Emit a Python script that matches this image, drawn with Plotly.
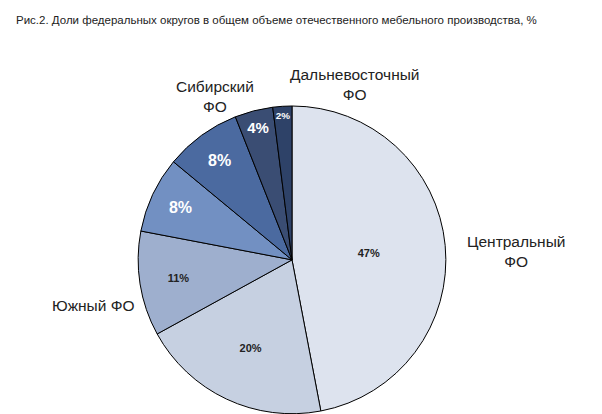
import plotly.graph_objects as go

districts = ["Центральный ФО", "Северо-Западный ФО", "Южный ФО", "Приволжский ФО",
             "Уральский ФО", "Сибирский ФО", "Дальневосточный ФО"]
shares = [47, 20, 11, 8, 8, 4, 2]
colors = ["#dde3ee", "#c6d0e1", "#9eafce", "#7290c2", "#4b6aa0", "#3a4d73", "#2e4268"]
txt_colors = ["#222", "#222", "#222", "white", "white", "white", "white"]
txt_sizes = [11, 11, 11, 16, 16, 15, 15]

fig = go.Figure(go.Pie(
    labels=districts, values=shares, sort=False, direction="clockwise", rotation=0,
    marker=dict(colors=colors, line=dict(color="black", width=1)),
    texttemplate="<b>%{value}%</b>", textposition="inside", insidetextorientation="horizontal",
    textfont=dict(color=txt_colors, size=txt_sizes, family="Liberation Sans"),
    domain=dict(x=[129/602, 439/602], y=[0.02, 1-98/414]),
    showlegend=False, hoverinfo="label+percent"))

ann = [
    ("Рис.2. Доли федеральных округов в общем объеме отечественного мебельного производства, %", 6, 12, 11.5, "left"),
    ("Центральный<br>ФО", 508, 244, 15.5, "center"),
    ("Южный ФО", 85, 297, 15.5, "center"),
    ("Сибирский<br>ФО", 207, 88, 15.5, "center"),
    ("Дальневосточный<br>ФО", 347, 76, 15.5, "center"),
]
for t, x, y, s, a in ann:
    fig.add_annotation(text=t, x=x/602, y=1-y/414, xref="paper", yref="paper",
                       showarrow=False, xanchor="left" if a == "left" else "center",
                       yanchor="middle", align=a,
                       font=dict(size=s, color="#222", family="Liberation Sans"))

fig.update_layout(width=602, height=414, margin=dict(l=0, r=0, t=0, b=0),
                  paper_bgcolor="white", plot_bgcolor="white")
fig.write_html("out.html")
